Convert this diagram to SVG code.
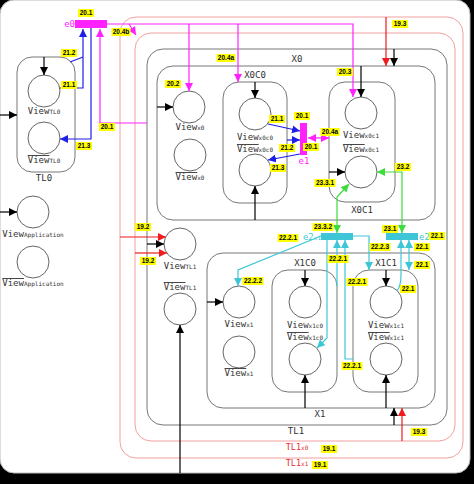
<svg xmlns="http://www.w3.org/2000/svg" width="474" height="484" viewBox="0 0 474 484">
<defs>
<style>
.box{fill:none;stroke:#777;stroke-width:1}
.pink{fill:none;stroke:#f2a0a0;stroke-width:1}
.v{fill:#fff;stroke:#666;stroke-width:1}
.t{font-family:"DejaVu Sans Mono",monospace;font-size:9px;fill:#333;text-anchor:middle}
.tr{font-family:"DejaVu Sans Mono",monospace;font-size:8.5px;fill:#e03030;text-anchor:middle}
.s{font-size:6px}
.ov{text-decoration:overline}
.el rect{fill:#ffff00}
.el text{font-family:"Liberation Sans",Arial,sans-serif;font-weight:bold;font-size:6.5px;text-anchor:middle;fill:#000}
.k{stroke:#000;stroke-width:1.2;fill:none;marker-end:url(#ak)}
.r{stroke:#ee1c1c;stroke-width:1.2;fill:none;marker-end:url(#ar)}
.m{stroke:#ff22ff;stroke-width:1.2;fill:none}
.b{stroke:#1e1ee6;stroke-width:1.2;fill:none}
.g{stroke:#3ddc3d;stroke-width:1.2;fill:none}
.c{stroke:#3ec6d6;stroke-width:1.2;fill:none}
</style>
<marker id="ak" viewBox="0 0 10 10" refX="10" refY="5" markerWidth="8" markerHeight="8" markerUnits="userSpaceOnUse" orient="auto-start-reverse"><path d="M0,0L10,5L0,10z" fill="#000"/></marker>
<marker id="ar" viewBox="0 0 10 10" refX="10" refY="5" markerWidth="8" markerHeight="8" markerUnits="userSpaceOnUse" orient="auto-start-reverse"><path d="M0,0L10,5L0,10z" fill="#ee1c1c"/></marker>
<marker id="am" viewBox="0 0 10 10" refX="10" refY="5" markerWidth="8" markerHeight="8" markerUnits="userSpaceOnUse" orient="auto-start-reverse"><path d="M0,0L10,5L0,10z" fill="#ff22ff"/></marker>
<marker id="ab" viewBox="0 0 10 10" refX="10" refY="5" markerWidth="8" markerHeight="8" markerUnits="userSpaceOnUse" orient="auto-start-reverse"><path d="M0,0L10,5L0,10z" fill="#1e1ee6"/></marker>
<marker id="ag" viewBox="0 0 10 10" refX="10" refY="5" markerWidth="8" markerHeight="8" markerUnits="userSpaceOnUse" orient="auto-start-reverse"><path d="M0,0L10,5L0,10z" fill="#3ddc3d"/></marker>
<marker id="ac" viewBox="0 0 10 10" refX="10" refY="5" markerWidth="8" markerHeight="8" markerUnits="userSpaceOnUse" orient="auto-start-reverse"><path d="M0,0L10,5L0,10z" fill="#3ec6d6"/></marker>
</defs>
<rect width="474" height="484" fill="#000"/>
<rect x="0" y="0" width="470" height="473" rx="14" fill="#fff" stroke="#bbb"/>

<g id="TL1x1"><rect class="pink" x="120" y="17" width="343" height="441" rx="16"/><text class="tr" x="297" y="466">TL1<tspan class="s">x1</tspan></text></g>
<g id="TL1x0"><rect class="pink" x="135" y="33" width="320" height="408" rx="16"/><text class="tr" x="297" y="450">TL1<tspan class="s">x0</tspan></text></g>
<g id="TL1"><rect class="box" x="147" y="49" width="300" height="376" rx="16"/><text class="t" x="296" y="434">TL1</text></g>
<g id="X0"><rect class="box" x="157" y="66" width="278" height="154" rx="16"/><text class="t" x="297" y="62">X0</text></g>
<g id="X0C0"><rect class="box" x="223" y="82" width="64" height="121" rx="16"/><text class="t" x="255" y="78">X0C0</text></g>
<g id="X0C1"><rect class="box" x="329" y="82" width="66" height="120" rx="16"/><text class="t" x="362" y="213">X0C1</text></g>
<g id="X1"><rect class="box" x="207" y="253" width="228" height="155" rx="16"/><text class="t" x="320" y="417">X1</text></g>
<g id="X1C0"><rect class="box" x="272" y="270" width="65" height="122" rx="16"/><text class="t" x="305" y="266">X1C0</text></g>
<g id="X1C1"><rect class="box" x="353" y="270" width="65" height="122" rx="16"/><text class="t" x="386" y="266">X1C1</text></g>
<g id="TL0"><rect class="box" x="17" y="57" width="58" height="115" rx="15"/><text class="t" x="44" y="181">TL0</text></g>

<g id="ViewTL0"><circle class="v" cx="44" cy="91" r="16"/><text class="t" x="44" y="114">View<tspan class="s">TL0</tspan></text></g>
<g id="ViewTL0bar"><circle class="v" cx="44" cy="138" r="16"/><text class="t" x="44" y="163"><tspan class="ov">View</tspan><tspan class="s">TL0</tspan></text></g>
<g id="ViewApplication"><circle class="v" cx="33" cy="212" r="16"/><text class="t" x="33" y="237">View<tspan class="s">Application</tspan></text></g>
<g id="ViewApplicationbar"><circle class="v" cx="33" cy="262" r="16"/><text class="t" x="33" y="286"><tspan class="ov">View</tspan><tspan class="s">Application</tspan></text></g>
<g id="Viewx0"><circle class="v" cx="189" cy="107" r="16"/><text class="t" x="190" y="130">View<tspan class="s">x0</tspan></text></g>
<g id="Viewx0bar"><circle class="v" cx="190" cy="155" r="16"/><text class="t" x="190" y="180"><tspan class="ov">View</tspan><tspan class="s">x0</tspan></text></g>
<g id="Viewx0c0"><circle class="v" cx="255" cy="114" r="16"/><text class="t" x="255" y="140">View<tspan class="s">x0c0</tspan></text></g>
<g id="Viewx0c0bar"><circle class="v" cx="255" cy="170" r="16"/><text class="t" x="255" y="152"><tspan class="ov">View</tspan><tspan class="s">x0c0</tspan></text></g>
<g id="Viewx0c1"><circle class="v" cx="361" cy="113" r="16"/><text class="t" x="361" y="138">View<tspan class="s">x0c1</tspan></text></g>
<g id="Viewx0c1bar"><circle class="v" cx="361" cy="172" r="16"/><text class="t" x="361" y="152"><tspan class="ov">View</tspan><tspan class="s">x0c1</tspan></text></g>
<g id="ViewTL1"><circle class="v" cx="180" cy="244" r="16"/><text class="t" x="180" y="269">View<tspan class="s">TL1</tspan></text></g>
<g id="ViewTL1bar"><circle class="v" cx="180" cy="309" r="16"/><text class="t" x="180" y="290"><tspan class="ov">View</tspan><tspan class="s">TL1</tspan></text></g>
<g id="Viewx1"><circle class="v" cx="239" cy="302" r="16"/><text class="t" x="239" y="327">View<tspan class="s">x1</tspan></text></g>
<g id="Viewx1bar"><circle class="v" cx="239" cy="352" r="16"/><text class="t" x="239" y="376"><tspan class="ov">View</tspan><tspan class="s">x1</tspan></text></g>
<g id="Viewx1c0"><circle class="v" cx="305" cy="302" r="16"/><text class="t" x="305" y="328">View<tspan class="s">x1c0</tspan></text></g>
<g id="Viewx1c0bar"><circle class="v" cx="305" cy="359" r="16"/><text class="t" x="305" y="340"><tspan class="ov">View</tspan><tspan class="s">x1c0</tspan></text></g>
<g id="Viewx1c1"><circle class="v" cx="386" cy="302" r="16"/><text class="t" x="386" y="328">View<tspan class="s">x1c1</tspan></text></g>
<g id="Viewx1c1bar"><circle class="v" cx="386" cy="359" r="16"/><text class="t" x="386" y="340"><tspan class="ov">View</tspan><tspan class="s">x1c1</tspan></text></g>

<g id="e0"><rect x="75" y="20" width="32" height="8" fill="#ff22ff"/><text class="t" x="75" y="27" style="text-anchor:end;fill:#ff22ff">e0</text></g>
<g id="e1"><rect x="300" y="123" width="7" height="32" fill="#ff22ff"/><text class="t" x="304" y="164" style="fill:#ff22ff">e1</text></g>
<g id="e2x1"><rect x="321" y="233" width="32" height="7" fill="#3ec6d6"/><text class="t" x="321" y="240" style="text-anchor:end;fill:#3ec6d6">e2<tspan class="s">x1</tspan></text></g>
<g id="e2"><rect x="386" y="233" width="32" height="7" fill="#3ec6d6"/><text class="t" x="419" y="240" style="text-anchor:start;fill:#3ec6d6">e2</text></g>

<g id="connectors">
<path class="k" d="M0,115H17"/>
<path class="k" d="M44,57V75"/>
<path class="k" d="M0,212H17"/>
<path class="k" d="M157,107H173"/>
<path class="k" d="M255,82V98"/>
<path class="k" d="M255,220V186"/>
<path class="k" d="M361,66V97"/>
<path class="k" d="M329,172H345"/>
<path class="k" d="M394,49V66"/>
<path class="k" d="M147,244H164"/>
<path class="k" d="M180,473V325"/>
<path class="k" d="M207,302H223"/>
<path class="k" d="M305,270V286"/>
<path class="k" d="M386,270V286"/>
<path class="k" d="M305,408V375"/>
<path class="k" d="M386,408V375"/>
<path class="k" d="M394,425V408"/>
<path class="r" d="M386,17V66"/>
<path class="r" d="M402,441V408"/>
<path class="r" d="M120,237H166"/>
<path class="r" d="M135,253H167"/>
<path class="m" d="M147,123H100V29" marker-end="url(#am)"/>
<path class="m" d="M107,24H353V97" marker-end="url(#am)"/>
<path class="m" d="M189,24V91" marker-end="url(#am)"/>
<path class="m" d="M238,24V82" marker-end="url(#am)"/>
<path class="m" d="M129,24L136,35" marker-end="url(#am)"/>
<path class="m" d="M308,138H329" marker-start="url(#am)" marker-end="url(#am)"/>
<path class="b" d="M60,88H83V29" marker-end="url(#ab)"/>
<path class="b" d="M70,62L83,57"/>
<path class="b" d="M91,28V139H60" marker-end="url(#ab)"/>
<path class="b" d="M268,124L300,131" marker-end="url(#ab)"/>
<path class="b" d="M287,140H300" marker-end="url(#ab)"/>
<path class="b" d="M300,154L268,160" marker-end="url(#ab)"/>
<path class="g" d="M402,233V172H377" marker-start="url(#ag)" marker-end="url(#ag)"/>
<path class="g" d="M337,233V197L349,184" marker-start="url(#ag)" marker-end="url(#ag)"/>
<path class="c" d="M321,236L238,270V286" marker-end="url(#ac)"/>
<path class="c" d="M353,236H369V270" marker-end="url(#ac)"/>
<path class="c" d="M327,240V338L317,348" marker-end="url(#ac)"/>
<path class="c" d="M337,286V240" marker-end="url(#ac)"/>
<path class="c" d="M353,359H345V240" marker-end="url(#ac)"/>
<path class="c" d="M397,291Q401,286 401,275V240" marker-end="url(#ac)"/>
<path class="c" d="M409,240V270" marker-start="url(#ac)" marker-end="url(#ac)"/>
</g>

<g id="edge-labels" class="el">
<rect x="78" y="9" width="16" height="8"/><text x="86" y="15.3">20.1</text>
<rect x="111.5" y="28" width="19" height="8"/><text x="121" y="34.3">20.4b</text>
<rect x="61" y="49" width="16" height="8"/><text x="69" y="55.3">21.2</text>
<rect x="61" y="81" width="16" height="8"/><text x="69" y="87.3">21.1</text>
<rect x="99" y="123" width="16" height="8"/><text x="107" y="129.3">20.1</text>
<rect x="76" y="142" width="16" height="8"/><text x="84" y="148.3">21.3</text>
<rect x="165" y="80" width="16" height="8"/><text x="173" y="86.3">20.2</text>
<rect x="216.5" y="54" width="19" height="8"/><text x="226" y="60.3">20.4a</text>
<rect x="269" y="115" width="16" height="8"/><text x="277" y="121.3">21.1</text>
<rect x="294" y="112" width="16" height="8"/><text x="302" y="118.3">20.1</text>
<rect x="320.5" y="128" width="19" height="8"/><text x="330" y="134.3">20.4a</text>
<rect x="279" y="144" width="16" height="8"/><text x="287" y="150.3">21.2</text>
<rect x="303" y="143" width="16" height="8"/><text x="311" y="149.3">20.1</text>
<rect x="270" y="164" width="16" height="8"/><text x="278" y="170.3">21.3</text>
<rect x="337" y="68" width="16" height="8"/><text x="345" y="74.3">20.3</text>
<rect x="392" y="20" width="16" height="8"/><text x="400" y="26.3">19.3</text>
<rect x="395" y="163" width="16" height="8"/><text x="403" y="169.3">23.2</text>
<rect x="314.5" y="179" width="21" height="8"/><text x="325" y="185.3">23.3.1</text>
<rect x="312.5" y="223" width="21" height="8"/><text x="323" y="229.3">23.3.2</text>
<rect x="382" y="225" width="16" height="8"/><text x="390" y="231.3">23.1</text>
<rect x="429" y="232" width="16" height="8"/><text x="437" y="238.3">22.1</text>
<rect x="277.5" y="234" width="21" height="8"/><text x="288" y="240.3">22.2.1</text>
<rect x="369.5" y="243" width="21" height="8"/><text x="380" y="249.3">22.2.3</text>
<rect x="414" y="243" width="16" height="8"/><text x="422" y="249.3">22.1</text>
<rect x="327.5" y="255" width="21" height="8"/><text x="338" y="261.3">22.2.1</text>
<rect x="414" y="261" width="16" height="8"/><text x="422" y="267.3">22.1</text>
<rect x="346.5" y="278" width="21" height="8"/><text x="357" y="284.3">22.2.1</text>
<rect x="400" y="285" width="16" height="8"/><text x="408" y="291.3">22.1</text>
<rect x="341.5" y="362" width="21" height="8"/><text x="352" y="368.3">22.2.1</text>
<rect x="242.5" y="277" width="21" height="8"/><text x="253" y="283.3">22.2.2</text>
<rect x="135" y="223" width="16" height="8"/><text x="143" y="229.3">19.2</text>
<rect x="140" y="257" width="16" height="8"/><text x="148" y="263.3">19.2</text>
<rect x="411" y="428" width="16" height="8"/><text x="419" y="434.3">19.3</text>
<rect x="321" y="445" width="16" height="8"/><text x="329" y="451.3">19.1</text>
<rect x="312" y="461" width="16" height="8"/><text x="320" y="467.3">19.1</text>
</g>
</svg>
